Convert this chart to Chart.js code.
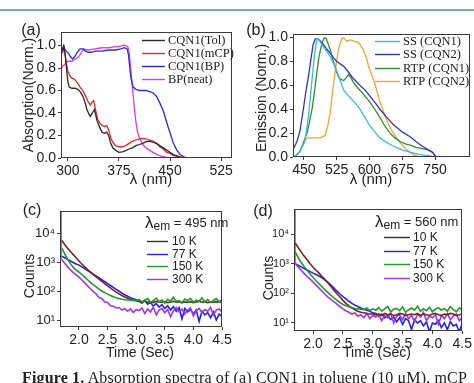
<!DOCTYPE html>
<html><head><meta charset="utf-8">
<script src="https://cdn.jsdelivr.net/npm/chart.js@4"></script>
<style>
html,body{margin:0;padding:0;width:474px;height:383px;overflow:hidden;background:#fff;}
canvas{position:absolute;left:0;top:0;}
#rule{position:absolute;left:0;top:9px;width:474px;height:2px;background:#7ba7c8;}
#cap{position:absolute;left:22px;top:369px;font:16px "Liberation Serif";white-space:nowrap;color:#222;letter-spacing:0.15px;}
</style></head><body>
<div id="rule"></div>
<canvas id="ca" width="474" height="383"></canvas>
<canvas id="cb" width="474" height="383"></canvas>
<canvas id="cc" width="474" height="383"></canvas>
<canvas id="cd" width="474" height="383"></canvas>
<div id="cap"><b>Figure 1.</b> Absorption spectra of (a) CQN1 in toluene (10 μM), mCP</div>
<script>
// ---------- Panel (a): absorption ----------
const absTicksX = [300, 375, 450, 525];
const normTicksY = [0, 0.2, 0.4, 0.6, 0.8, 1.0];
const absLabels = ['CQN1(Tol)', 'CQN1(mCP)', 'CQN1(BP)', 'BP(neat)'];
const tolWl = [292,294,296,298,300,302,306,310,315,318,322,326,328,331,333,336,339,343,347,350,354,357,360,363,366,370,375,380,385,390,395,400,405,410,415,420,425,430,435,440,445,450,455,460,465,470,480,540];
const tolAbs = [0.95,0.99,0.93,0.80,0.68,0.63,0.62,0.62,0.61,0.59,0.55,0.48,0.43,0.39,0.37,0.40,0.43,0.33,0.27,0.23,0.22,0.23,0.20,0.13,0.09,0.07,0.05,0.055,0.065,0.08,0.09,0.11,0.12,0.13,0.145,0.15,0.14,0.13,0.11,0.09,0.07,0.05,0.03,0.02,0.01,0.005,0,0];
const mcpWl = [292,294,296,298,300,303,306,310,315,318,322,326,329,331,333,336,338,341,344,347,350,354,357,360,363,366,370,375,380,385,390,395,400,405,410,415,420,425,430,435,440,445,450,455,460,465,470,480,540];
const mcpAbs = [0.93,0.98,0.92,0.84,0.77,0.73,0.71,0.70,0.66,0.63,0.60,0.55,0.51,0.49,0.47,0.50,0.51,0.42,0.34,0.31,0.29,0.28,0.29,0.25,0.18,0.14,0.11,0.10,0.10,0.11,0.13,0.15,0.16,0.17,0.175,0.17,0.16,0.15,0.13,0.10,0.08,0.05,0.04,0.02,0.015,0.005,0.002,0,0];
const bpWl = [290,292,294,296,298,301,304,307,310,314,318,322,326,330,335,340,350,360,370,378,383,387,389,391,393,396,400,405,410,415,420,425,430,435,440,447,455,460,465,472,480,540];
const bpAbs = [0.95,0.97,1.0,0.96,0.95,0.93,0.90,0.88,0.90,0.94,0.97,0.97,0.95,0.94,0.94,0.95,0.95,0.96,0.96,0.97,0.98,0.97,0.92,0.80,0.70,0.63,0.61,0.60,0.60,0.60,0.59,0.58,0.55,0.49,0.42,0.28,0.13,0.07,0.03,0.005,0,0];
const neatWl = [290,293,297,300,306,311,316,320,323,330,340,350,360,370,375,380,385,388,390,392,394,396,398,400,402,405,410,415,420,425,430,435,443,450,540];
const neatAbs = [0.79,0.82,0.84,0.86,0.86,0.88,0.90,0.94,0.97,0.96,0.97,0.98,0.98,0.99,0.99,1.0,1.0,0.99,0.94,0.82,0.68,0.55,0.42,0.32,0.24,0.18,0.12,0.09,0.07,0.05,0.035,0.02,0.008,0,0];

// ---------- Panel (b): emission ----------
const emTicksX = [450, 525, 600, 675, 750];
const emLabels = ['SS (CQN1)', 'SS (CQN2)', 'RTP (CQN1)', 'RTP (CQN2)'];
const ss1Wl = [428,440,452,460,466,471,475,480,484,488,495,503,510,518,525,533,541,550,560,570,578,590,601,612,624,640,655,675,693,715,739,750];
const ss1Em = [0,0.04,0.13,0.33,0.55,0.74,0.88,0.99,0.98,0.96,0.92,0.88,0.84,0.78,0.72,0.64,0.56,0.52,0.48,0.44,0.40,0.33,0.26,0.21,0.16,0.12,0.09,0.06,0.04,0.02,0.01,0];
const ss2Wl = [426,434,441,449,455,461,466,471,476,482,488,495,503,510,518,525,533,541,550,560,570,578,590,601,612,624,640,655,675,693,710,721,735,744,752];
const ss2Em = [0.07,0.13,0.22,0.41,0.56,0.69,0.82,0.94,0.99,0.99,0.97,0.94,0.90,0.87,0.83,0.80,0.78,0.76,0.72,0.67,0.63,0.60,0.56,0.51,0.46,0.40,0.33,0.27,0.21,0.17,0.12,0.09,0.06,0.04,0];
const rtp1Wl = [428,440,447,458,464,469,473,476,480,484,488,491,494,497,501,505,510,515,521,525,529,535,541,546,552,558,564,573,583,592,601,612,624,635,647,658,670,682,693,707,721,733,744,752];
const rtp1Em = [0,0.04,0.10,0.21,0.32,0.41,0.52,0.60,0.72,0.83,0.90,0.95,0.98,1.0,0.99,0.95,0.90,0.83,0.76,0.71,0.67,0.65,0.64,0.66,0.69,0.66,0.62,0.58,0.54,0.50,0.46,0.40,0.33,0.26,0.20,0.16,0.13,0.11,0.10,0.08,0.07,0.06,0.04,0];
const rtp2Wl = [428,441,452,458,464,475,487,498,504,510,514,518,522,525,529,533,537,541,548,556,565,575,586,592,598,604,609,615,620,628,636,644,651,660,670,685,700,715];
const rtp2Em = [0,0.05,0.14,0.16,0.16,0.16,0.16,0.18,0.25,0.37,0.50,0.62,0.73,0.81,0.90,0.95,0.99,1.0,0.97,0.98,0.97,0.96,0.90,0.84,0.76,0.70,0.65,0.58,0.51,0.42,0.34,0.27,0.22,0.17,0.12,0.06,0.02,0];

// ---------- Panels (c),(d): decays ----------
const logTicks = [10, 100, 1000, 10000];
const timeTicks = [2.0, 2.5, 3.0, 3.5, 4.0, 4.5];
const tempLabels = ['10 K', '77 K', '150 K', '300 K'];
const decayTime = [1.70,1.75,1.80,1.85,1.90,1.95,2.00,2.05,2.10,2.15,2.20,2.25,2.30,2.35,2.40,2.45,2.50,2.55,2.60,2.65,2.70,2.75,2.80,2.85,2.90,2.95,3.00,3.05,3.10,3.15,3.20,3.25,3.30,3.35,3.40,3.45,3.50,3.55,3.60,3.65,3.70,3.75,3.80,3.85,3.90,3.95,4.00,4.05,4.10,4.15,4.20,4.25,4.30,4.35,4.40,4.45,4.50];
const c10K = [5500,4000,3000,2300,1800,1400,1080,850,680,550,450,370,305,255,215,180,150,128,108,92,80,70,62,56,51,48,46,44,42,45,41,43,40,44,42,41,43,40,42,44,41,43,40,42,41,43,40,42,44,41,43,40,42,41,43,42,41];
const c77K = [1600,1400,1230,1080,960,860,780,680,590,510,440,380,330,285,245,210,180,155,133,114,98,85,74,66,59,54,50,45,38,47,35,40,30,37,28,34,25,31,22,29,20,27,11,25,19,23,16,22,9,20,15,18,12,19,10,16,13];
const c150K = [3000,1900,1250,880,650,530,450,370,300,245,200,165,138,116,100,88,78,70,64,59,55,52,50,49,48,47,46,50,42,48,55,40,46,57,43,49,38,52,45,60,44,47,39,53,46,56,41,48,44,58,42,51,40,47,55,43,49];
const c300K = [1200,900,680,540,430,360,300,240,190,150,120,95,78,60,55,42,40,31,30,26,27,22,25,20,24,18,23,21,26,17,24,19,28,15,22,25,18,23,13,21,27,19,24,16,22,26,14,21,25,18,23,20,27,15,22,24,19];
const cSpikeT = [1.685, 1.685];
const cSpikeY = [55000, 1200];
const d10K = [5000,3500,2500,1800,1350,1000,760,600,480,370,290,225,170,128,97,75,58,46,38,32,28,25,23,22,21,20,20,19,20,18,21,19,20,18,19,21,20,18,19,20,19,21,18,20,19,18,20,21,19,18,20,19,21,20,18,19,20];
const d77K = [1000,880,780,690,610,540,480,430,385,330,280,235,190,150,118,95,78,65,54,46,40,36,32,29,27,25,22,21,17,20,15,18,13,16,11,15,9,14,12,6,13,10,12,8,11,5,10,9,12,7,10,6,11,8,9,5,10];
const d150K = [2500,1600,1100,800,600,450,340,265,210,165,130,105,85,70,58,49,42,38,35,33,31,30,29,28,32,26,30,27,33,25,30,36,24,29,31,26,35,23,28,32,27,37,25,30,26,34,24,29,33,27,31,25,36,28,24,32,29];
const d300K = [1000,780,600,470,370,300,240,190,150,118,93,75,62,52,43,36,30,26,23,20,22,17,19,15,21,14,18,16,20,12,18,15,22,10,17,19,13,21,14,18,11,20,16,23,12,17,15,19,9,18,14,21,13,17,20,12,16];
const dSpikeT = [1.695, 1.695];
const dSpikeY = [65000, 1000];

// ---------- helpers ----------
const W = 474, H = 383;
const SANS = '"Liberation Sans", Arial, sans-serif';
const SERIF = '"Liberation Serif", "Times New Roman", serif';
const sup = {1:'¹',2:'²',3:'³',4:'⁴'};
const pts = (xs, ys) => xs.map((x, i) => ({x, y: ys[i]}));

const deco = {
  id: 'deco',
  afterDraw(chart, args, o) {
    const ctx = chart.ctx, a = chart.chartArea;
    ctx.save();
    ctx.strokeStyle = '#3a3a3a'; ctx.lineWidth = 1;
    ctx.strokeRect(Math.round(a.left) + 0.5, Math.round(a.top) + 0.5, Math.round(a.right - a.left) - 1, Math.round(a.bottom - a.top) - 1);
    (o.texts || []).forEach(t => {
      ctx.save();
      ctx.font = t.font; ctx.fillStyle = '#222';
      ctx.textAlign = t.align || 'center'; ctx.textBaseline = 'middle';
      ctx.translate(t.x, t.y); if (t.rot) ctx.rotate(t.rot);
      ctx.fillText(t.text, 0, 0);
      ctx.restore();
    });
    if (o.runs) {
      let x = o.runs.x;
      o.runs.parts.forEach(p => {
        ctx.font = p.font; ctx.fillStyle = '#222'; ctx.textAlign = 'left'; ctx.textBaseline = 'middle';
        ctx.fillText(p.text, x, o.runs.y + (p.dy || 0));
        x += ctx.measureText(p.text).width;
      });
    }
    const L = o.legend;
    if (L) {
      let k = 0;
      chart.data.datasets.forEach(ds => {
        if (!ds.label) return;
        const y = Math.round(L.y0 + k * L.dy) + 0.5; k++;
        ctx.strokeStyle = ds.legendColor || ds.borderColor; ctx.lineWidth = 1.4;
        ctx.beginPath(); ctx.moveTo(L.x0, y); ctx.lineTo(L.x1, y); ctx.stroke();
        ctx.fillStyle = '#222'; ctx.font = L.font; ctx.textAlign = 'left'; ctx.textBaseline = 'middle';
        ctx.fillText(ds.label, L.tx, y);
      });
    }
    ctx.restore();
  }
};

function axis(kind, min, max, tickVals, fmt, fontSize, fixed, isX) {
  return {
    type: kind, min, max,
    afterBuildTicks(s) { s.ticks = tickVals.map(v => ({value: v})); },
    afterFit(s) { if (isX) s.height = fixed; else s.width = fixed; },
    ticks: { callback: fmt, font: {family: SANS, size: fontSize}, color: '#222', padding: 2, maxRotation: 0, autoSkip: false },
    grid: { drawOnChartArea: false, tickLength: 3, color: '#3a3a3a' },
    border: { display: false }
  };
}

function makeChart(id, box, datasets, xAxis, yAxis, plug, lw) {
  return new Chart(document.getElementById(id), {
    type: 'line',
    data: { datasets },
    options: {
      responsive: false, animation: false, devicePixelRatio: 1,
      layout: { padding: { left: box.l - box.yw, top: box.t, right: W - box.r, bottom: H - box.b - box.xh } },
      elements: { point: { radius: 0 }, line: { borderWidth: lw, tension: 0 } },
      scales: { x: xAxis, y: yAxis },
      plugins: { legend: {display: false}, tooltip: {enabled: false}, deco: plug }
    },
    plugins: [deco]
  });
}

const fmt1 = v => v.toFixed(1);
const fmtInt = v => String(v);
const fmtLog = v => '10' + sup[Math.round(Math.log10(v))];
const ds = (label, xs, ys, color, order, extra) => Object.assign({label, data: pts(xs, ys), borderColor: color, order, fill: false}, extra || {});

// (a)
makeChart('ca', {l: 61, t: 32, r: 232, b: 158, yw: 30, xh: 22}, [
  ds(absLabels[0], tolWl, tolAbs, '#2a2a2a', 1),
  ds(absLabels[1], mcpWl, mcpAbs, '#e8262b', 2),
  ds(absLabels[2], bpWl, bpAbs, '#2b2bd6', 3),
  ds(absLabels[3], neatWl, neatAbs, '#e03ce0', 4)
],
  axis('linear', 290, 541, absTicksX, fmtInt, 14, 22, true),
  axis('linear', 0, 1.12, normTicksY, fmt1, 14, 30, false),
  { texts: [
      {text: '(a)', x: 31, y: 31, font: '16px ' + SANS},
      {text: 'Absorption(Norm.)', x: 29, y: 95, rot: -Math.PI / 2, font: '14px ' + SANS},
      {text: 'λ (nm)', x: 151, y: 180, font: '15px ' + SANS}],
    legend: {x0: 142, x1: 165, tx: 168, y0: 40, dy: 13, font: '12.5px ' + SERIF} }, 1.3);

// (b)
makeChart('cb', {l: 293, t: 34, r: 470, b: 157, yw: 30, xh: 22}, [
  ds(emLabels[0], ss1Wl, ss1Em, '#3cb9e2', 1),
  ds(emLabels[1], ss2Wl, ss2Em, '#3434c4', 2),
  ds(emLabels[2], rtp1Wl, rtp1Em, '#2f8f2f', 3),
  ds(emLabels[3], rtp2Wl, rtp2Em, '#f4a23a', 4)
],
  axis('linear', 425, 830, emTicksX, fmtInt, 14, 22, true),
  axis('linear', 0, 1.03, normTicksY, fmt1, 14, 30, false),
  { texts: [
      {text: '(b)', x: 256, y: 31, font: '16px ' + SANS},
      {text: 'Emission (Norm.)', x: 262, y: 98, rot: -Math.PI / 2, font: '14px ' + SANS},
      {text: 'λ (nm)', x: 371, y: 180, font: '15px ' + SANS}],
    legend: {x0: 375, x1: 400, tx: 403, y0: 41, dy: 13.3, font: '12.5px ' + SERIF} }, 1.3);

// (c)
makeChart('cc', {l: 60, t: 211, r: 222, b: 327, yw: 30, xh: 22}, [
  ds(tempLabels[0], decayTime, c10K, '#7a2320', 3, {legendColor: '#3a2a2a'}),
  ds(tempLabels[1], decayTime, c77K, '#2424e6', 5),
  ds(tempLabels[2], decayTime, c150K, '#22992a', 2),
  ds(tempLabels[3], decayTime, c300K, '#a232f2', 4),
  ds('', cSpikeT, cSpikeY, '#a232f2', 4)
],
  axis('linear', 1.668, 4.5, timeTicks, fmt1, 14, 22, true),
  axis('logarithmic', 5.74, 57400, logTicks, fmtLog, 13, 30, false),
  { texts: [
      {text: '(c)', x: 32, y: 211, font: '16px ' + SANS},
      {text: 'Counts', x: 30, y: 276, rot: -Math.PI / 2, font: '14px ' + SANS},
      {text: 'Time (Sec)', x: 140, y: 353, font: '14px ' + SANS}],
    runs: {x: 145, y: 223, parts: [
      {text: 'λ', font: '17px ' + SANS},
      {text: 'em', font: '12px ' + SANS, dy: 4},
      {text: ' = 495 nm', font: '13px ' + SANS}]},
    legend: {x0: 147, x1: 168, tx: 172, y0: 241, dy: 12.7, font: '12px ' + SANS} }, 1.6);

// (d)
makeChart('cd', {l: 294, t: 209, r: 470, b: 331, yw: 30, xh: 22}, [
  ds(tempLabels[0], decayTime, d10K, '#7a2320', 3, {legendColor: '#3a2a2a'}),
  ds(tempLabels[1], decayTime, d77K, '#2424e6', 5),
  ds(tempLabels[2], decayTime, d150K, '#22992a', 2),
  ds(tempLabels[3], decayTime, d300K, '#a232f2', 4),
  ds('', dSpikeT, dSpikeY, '#a232f2', 4)
],
  axis('linear', 1.68, 4.5, timeTicks, fmt1, 14, 22, true),
  axis('logarithmic', 5.37, 69700, logTicks, fmtLog, 11, 30, false),
  { texts: [
      {text: '(d)', x: 263, y: 212, font: '16px ' + SANS},
      {text: 'Counts', x: 269, y: 278, rot: -Math.PI / 2, font: '14px ' + SANS},
      {text: 'Time (Sec)', x: 377, y: 353, font: '14px ' + SANS}],
    runs: {x: 375, y: 222, parts: [
      {text: 'λ', font: '17px ' + SANS},
      {text: 'em', font: '12px ' + SANS, dy: 4},
      {text: ' = 560 nm', font: '13px ' + SANS}]},
    legend: {x0: 384, x1: 410, tx: 413, y0: 237, dy: 13.7, font: '12px ' + SANS} }, 1.6);
</script>
</body></html>
